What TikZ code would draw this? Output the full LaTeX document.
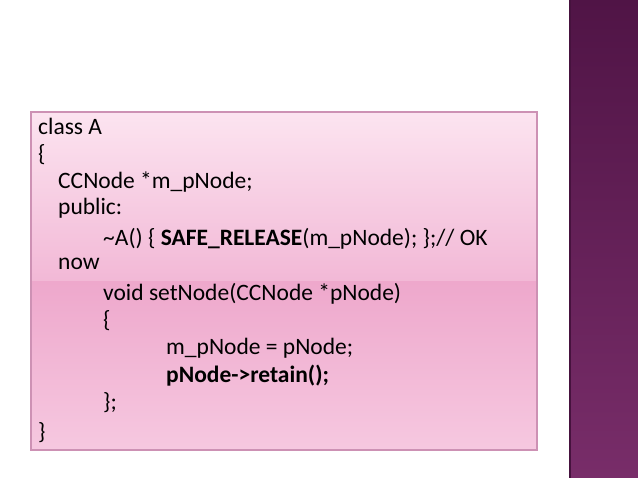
\documentclass[tikz,border=0pt]{standalone}
\usepackage{fontspec}
\setmainfont{Carlito}
\definecolor{barTop}{RGB}{80,20,70}
\definecolor{barBot}{RGB}{120,45,105}
\definecolor{barEdge}{RGB}{70,18,62}
\definecolor{pkA}{RGB}{252,228,240}
\definecolor{pkB}{RGB}{242,184,214}
\definecolor{pkC}{RGB}{238,168,204}
\definecolor{pkD}{RGB}{246,200,224}
\definecolor{pkLine}{RGB}{205,145,180}
\begin{document}
\begin{tikzpicture}[x=1pt,y=-1pt,
  code/.style={anchor=base west,inner sep=0pt,font=\fontsize{23.5}{28}\selectfont,text=black}]
\useasboundingbox (0,0) rectangle (638,478);
\fill[white] (0,0) rectangle (638,478);
\shade[top color=barTop,bottom color=barBot] (569,0) rectangle (638,478);
\fill[barEdge] (569,0) rectangle (571,478);
\shade[top color=pkA,bottom color=pkB] (31,112) rectangle (537,282);
\shade[top color=pkC,bottom color=pkD] (31,282) rectangle (537,450);
\draw[pkLine,line width=1.2] (31,112) rectangle (537,450);
\node[code] (l1) at (38,135) {class A};
\node[code] (l2) at (38,162) {\{};
\node[code] (l3) at (58,189) {CCNode *m\_pNode;};
\node[code] (l4) at (58,215) {public:};
\node[code] (l5) at (103,246) {\textasciitilde A() \{ \textbf{SAFE\_RELEASE}(m\_pNode); \};// OK};
\node[code] (l6) at (58,270) {now};
\node[code] (l7) at (103,301) {void setNode(CCNode *pNode)};
\node[code] (l8) at (103,328) {\{};
\node[code] (l9) at (166,355) {m\_pNode = pNode;};
\node[code] (l10) at (166,383) {\textbf{pNode->retain();}};
\node[code] (l11) at (103,410) {\};};
\node[code] (l12) at (38,440) {\}};
\end{tikzpicture}
\end{document}
